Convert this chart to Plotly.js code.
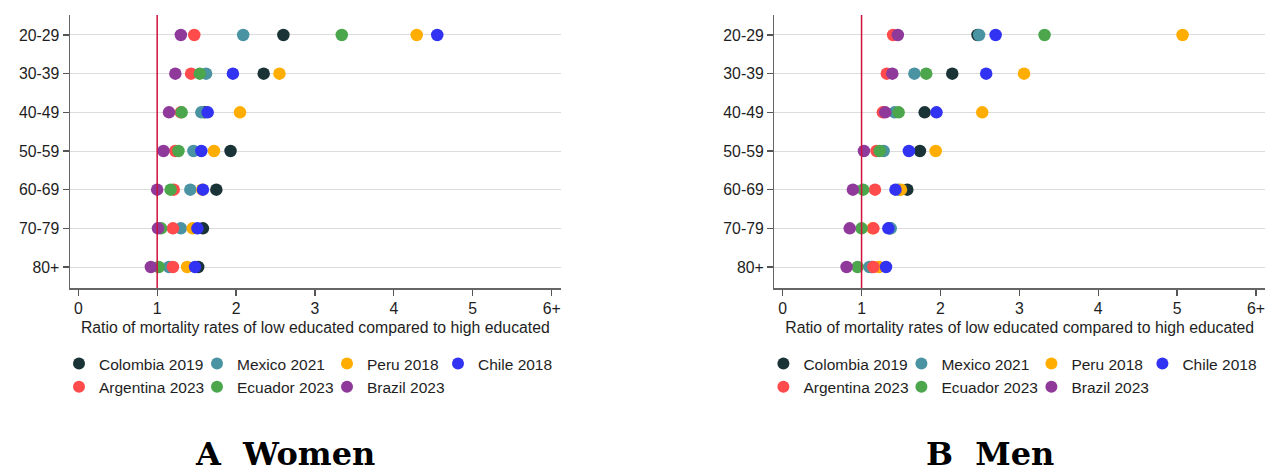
<!DOCTYPE html>
<html>
<head>
<meta charset="utf-8">
<script src="https://cdn.plot.ly/plotly-3.0.1.min.js"></script>
<style>
  html, body { margin: 0; padding: 0; background: #fff; }
  #chart { width: 1280px; height: 475px; }
</style>
</head>
<body>
<div id="chart"></div>
<script>
const ageGroups = ['20-29', '30-39', '40-49', '50-59', '60-69', '70-79', '80+'];
const tickValues = [0, 1, 2, 3, 4, 5, 6];
const tickLabels = ['0', '1', '2', '3', '4', '5', '6+'];

const countries = ['Colombia 2019', 'Mexico 2021', 'Peru 2018', 'Chile 2018',
  'Argentina 2023', 'Ecuador 2023', 'Brazil 2023'];
const colors = ['#1a3337', '#4a93a3', '#ffad00', '#3232f2', '#ff4b4b', '#4ca64c', '#8f3a9b'];

// women, by age group
const colombiaWomen = [2.60, 2.35, 1.60, 1.93, 1.75, 1.58, 1.52];
const mexicoWomen = [2.09, 1.62, 1.56, 1.46, 1.42, 1.30, 1.15];
const peruWomen = [4.29, 2.55, 2.05, 1.72, 1.57, 1.45, 1.38];
const chileWomen = [4.55, 1.96, 1.64, 1.56, 1.58, 1.51, 1.48];
const argentinaWomen = [1.47, 1.43, 1.30, 1.23, 1.21, 1.20, 1.20];
const ecuadorWomen = [3.34, 1.54, 1.31, 1.27, 1.17, 1.05, 1.02];
const brazilWomen = [1.30, 1.23, 1.15, 1.08, 1.00, 1.01, 0.92];

// men, by age group
const colombiaMen = [2.47, 2.15, 1.80, 1.74, 1.58, 1.36, 1.13];
const mexicoMen = [2.49, 1.67, 1.42, 1.28, 1.47, 1.37, 1.10];
const peruMen = [5.07, 3.06, 2.53, 1.94, 1.50, 1.14, 1.22];
const chileMen = [2.70, 2.58, 1.95, 1.60, 1.43, 1.34, 1.31];
const argentinaMen = [1.40, 1.32, 1.27, 1.19, 1.17, 1.15, 1.15];
const ecuadorMen = [3.32, 1.82, 1.47, 1.23, 1.02, 1.00, 0.95];
const brazilMen = [1.46, 1.39, 1.30, 1.03, 0.89, 0.85, 0.81];

const womenSeries = [colombiaWomen, mexicoWomen, peruWomen, chileWomen,
  argentinaWomen, ecuadorWomen, brazilWomen];
const menSeries = [colombiaMen, mexicoMen, peruMen, chileMen,
  argentinaMen, ecuadorMen, brazilMen];

const W = 1280, H = 475;
const plotTop = 15, plotBottom = 288;
const legendColumn = [0, 1, 2, 3, 0, 1, 2];
const legendTextX = [99, 237, 367, 478];
const panelShift = 704.4;

const fontFamily = '"Liberation Sans", Arial, sans-serif';
const textColor = '#1e1e1e';

const py = px => (plotBottom - px) / (plotBottom - plotTop);

const data = [];
countries.forEach((name, i) => {
  data.push({
    x: womenSeries[i], y: ageGroups, xaxis: 'x', yaxis: 'y',
    type: 'scatter', mode: 'markers', name: name,
    marker: { color: colors[i], size: 12.5 },
    legend: legendColumn[i] === 0 ? 'legend' : 'legend' + (legendColumn[i] + 1),
    hoverinfo: 'x+name'
  });
});
countries.forEach((name, i) => {
  data.push({
    x: menSeries[i], y: ageGroups, xaxis: 'x2', yaxis: 'y2',
    type: 'scatter', mode: 'markers', name: name,
    marker: { color: colors[i], size: 12.5 },
    legend: 'legend' + (legendColumn[i] + 5),
    hoverinfo: 'x+name'
  });
});

function xAxis(domain, anchor) {
  return {
    domain: domain, anchor: anchor,
    range: [-0.105, 6.115],
    tickvals: tickValues, ticktext: tickLabels,
    ticks: 'outside', ticklen: 6, tickwidth: 1.2, tickcolor: '#555',
    showline: true, linecolor: '#666', linewidth: 1.5,
    showgrid: false, zeroline: false,
    tickfont: { family: fontFamily, size: 15.8, color: textColor },
    title: {
      text: 'Ratio of mortality rates of low educated compared to high educated',
      font: { family: fontFamily, size: 15.8, color: textColor },
      standoff: 5
    }
  };
}

function yAxis(anchor) {
  return {
    anchor: anchor, type: 'category', categoryarray: ageGroups,
    range: [6.543, -0.517],
    ticks: 'outside', ticklen: 6, tickwidth: 1.2, tickcolor: '#555',
    showline: true, linecolor: '#666', linewidth: 1.5,
    showgrid: true, gridcolor: '#dcdcdc', gridwidth: 1, zeroline: false,
    tickfont: { family: fontFamily, size: 15.8, color: textColor }
  };
}

const titleFont = { family: '"DejaVu Serif", serif', size: 32, weight: 'bold', color: '#000' };

const layout = {
  width: W, height: H,
  margin: { l: 0, r: 0, t: plotTop, b: H - plotBottom },
  paper_bgcolor: '#fff', plot_bgcolor: '#fff',
  showlegend: true,
  xaxis: xAxis([70 / W, 560.7 / W], 'y'),
  yaxis: yAxis('x'),
  xaxis2: xAxis([774.4 / W, 1265 / W], 'y2'),
  yaxis2: yAxis('x2'),
  shapes: [
    { type: 'line', xref: 'x', yref: 'y domain', x0: 1, x1: 1, y0: 0, y1: 1,
      line: { color: '#d0103a', width: 1.5 }, layer: 'above' },
    { type: 'line', xref: 'x2', yref: 'y2 domain', x0: 1, x1: 1, y0: 0, y1: 1,
      line: { color: '#d0103a', width: 1.5 }, layer: 'above' }
  ],
  annotations: [
    { text: 'A\u00a0\u00a0Women', xref: 'paper', yref: 'paper', x: 285 / W, y: py(454),
      xanchor: 'center', yanchor: 'middle', showarrow: false, font: titleFont },
    { text: 'B\u00a0\u00a0Men', xref: 'paper', yref: 'paper', x: 990 / W, y: py(454),
      xanchor: 'center', yanchor: 'middle', showarrow: false, font: titleFont }
  ]
};

for (let k = 0; k < 8; k++) {
  const col = k % 4;
  const shift = k >= 4 ? panelShift : 0;
  const key = k === 0 ? 'legend' : 'legend' + (k + 1);
  layout[key] = {
    x: (legendTextX[col] - 40 + shift) / W, xanchor: 'left',
    y: py(347), yanchor: 'top',
    orientation: 'v', bgcolor: 'rgba(0,0,0,0)', borderwidth: 0,
    font: { family: fontFamily, size: 15.5, color: textColor },
    itemsizing: 'constant',
    tracegroupgap: 0
  };
}

Plotly.newPlot('chart', data, layout, { displayModeBar: false, staticPlot: true });
</script>
</body>
</html>
